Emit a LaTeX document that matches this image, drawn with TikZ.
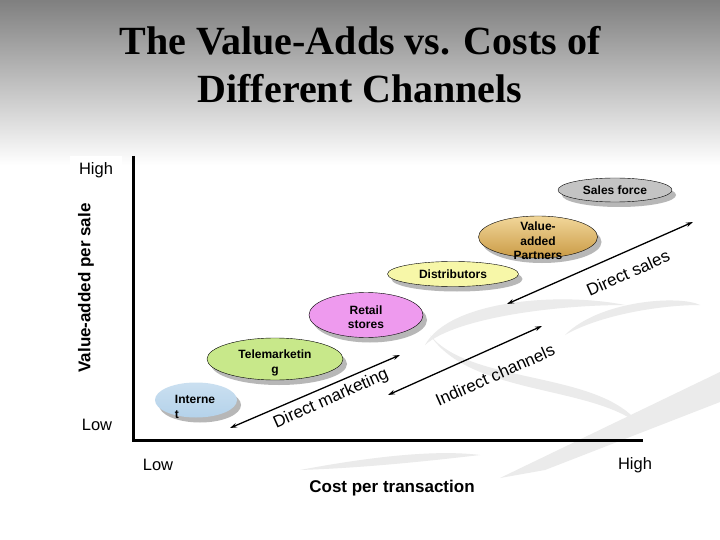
\documentclass[tikz,border=0pt]{standalone}
\usepackage{fontspec}
\setmainfont{Liberation Serif}
\setsansfont{Liberation Sans}
\usetikzlibrary{arrows.meta,positioning,shapes.geometric,shadows}
\definecolor{salesgray}{HTML}{C4C4C4}
\definecolor{vaptop}{HTML}{F2D79A}
\definecolor{vapbot}{HTML}{C99A45}
\definecolor{distyel}{HTML}{F7F7A8}
\definecolor{retailpink}{HTML}{EE9AEE}
\definecolor{telegreen}{HTML}{C8E88A}
\definecolor{netblue}{HTML}{B4D2EA}
\tikzset{
 oval/.style={ellipse,draw=black,thin,inner sep=0pt,
              drop shadow={shadow xshift=4pt,shadow yshift=-5pt,fill=black!35,opacity=0.8}},
 ovaltext/.style={font=\sffamily\bfseries\fontsize{12}{14.5}\selectfont,align=center,inner sep=0pt},
 axistext/.style={font=\sffamily\fontsize{16.5}{18}\selectfont,inner sep=1pt},
 axistitle/.style={font=\sffamily\bfseries\fontsize{17}{19}\selectfont,inner sep=0pt},
 slanttext/.style={font=\sffamily\fontsize{17}{19}\selectfont,rotate=24,inner sep=0pt},
 titletext/.style={font=\bfseries\fontsize{40}{48}\selectfont,anchor=base},
 arrow/.style={{Stealth[length=7pt,width=4.5pt]}-{Stealth[length=7pt,width=4.5pt]},line width=1.3pt},
 swoosh/.style={fill=black!8},
}

\begin{document}
\begin{tikzpicture}[x=1pt,y=-1pt]
\useasboundingbox (0,0) rectangle (720,540);
% background
\fill[white] (0,0) rectangle (720,540);
\shade[top color=black!50,bottom color=white] (0,0) rectangle (720,165);
\fill[swoosh] (425,345) .. controls (450,300) and (560,292) .. (625,305)
  .. controls (555,305) and (455,318) .. (425,345);
\fill[swoosh] (430,335) .. controls (470,385) and (600,370) .. (640,425)
  .. controls (590,385) and (470,395) .. (430,335);
\fill[swoosh] (565,335) .. controls (600,300) and (680,295) .. (700,305)
  .. controls (660,305) and (600,315) .. (565,335);
\fill[swoosh] (500,478) -- (720,372) -- (720,402) -- (545,470) -- cycle;
\fill[swoosh] (300,470) .. controls (380,455) and (440,450) .. (480,455)
  .. controls (420,462) and (360,468) .. (300,470);

% title
\node[titletext] (title1) at (360,55) {The Value-Adds vs. Costs of};
\node[titletext] (title2) at (360,103) {Different Channels};

% axes
\coordinate (origin) at (133,440);
\coordinate (ytop) at (133,156);
\coordinate (xend) at (643,440);
\draw[line width=3pt] (ytop) -- (origin) -- (xend);
\node[axistext,fill=white,minimum width=52pt,minimum height=27pt] (yhigh) at (96,170) {High};
\node[axistext] (ylow) at (97,425) {Low};
\node[axistext] (xlow) at (158,465) {Low};
\node[axistext] (xhigh) at (635,465) {High};
\node[axistitle,rotate=90] (ylabel) at (86,288) {Value-added per sale};
\node[axistitle] (xlabel) at (392,488) {Cost per transaction};

% channels
\node[oval,fill=salesgray,minimum width=114pt,minimum height=24pt] (sales) at (615,190) {};
\node[ovaltext] at (sales) {Sales force};
\node[oval,top color=vaptop,bottom color=vapbot,minimum width=119pt,minimum height=42pt] (vap) at (538,237) {};
\node[ovaltext] at ([yshift=-4pt]vap.center) {Value-\\added\\Partners};
\node[oval,fill=distyel,minimum width=131pt,minimum height=25pt] (dist) at (453,274) {};
\node[ovaltext] at (dist) {Distributors};
\node[oval,fill=retailpink,minimum width=114pt,minimum height=45pt] (retail) at (366,315) {};
\node[ovaltext] at ([yshift=-2pt]retail.center) {Retail\\stores};
\node[oval,fill=telegreen,minimum width=136pt,minimum height=42pt] (tele) at (275,359) {};
\node[ovaltext] at ([yshift=-4pt]tele.center) {Telemarketin\\g};
\node[oval,draw=none,top color=netblue!70,bottom color=netblue,minimum width=82pt,minimum height=35pt] (net) at (196,400) {};
\node[ovaltext,align=left] at ([xshift=-1pt,yshift=-7pt]net.center) {Interne\\t};

% ranges
\coordinate (dm1) at (230,428);
\coordinate (dm2) at (400,355);
\coordinate (ic1) at (388,395);
\coordinate (ic2) at (542,326);
\coordinate (ds1) at (507,304);
\coordinate (ds2) at (693,222);
\draw[arrow] (dm1) -- (dm2);
\draw[arrow] (ic1) -- (ic2);
\draw[arrow] (ds1) -- (ds2);
\node[slanttext] (dmtext) at (331,399) {Direct marketing};
\node[slanttext] (ictext) at (495,375) {Indirect channels};
\node[slanttext] (dstext) at (628,273) {Direct sales};
\end{tikzpicture}
\end{document}
